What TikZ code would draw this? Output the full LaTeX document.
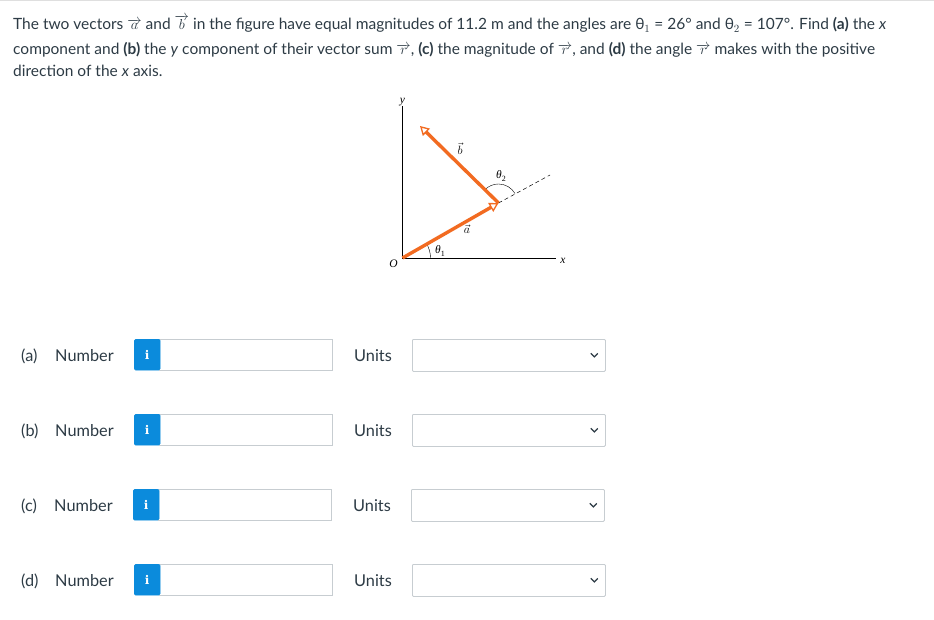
\documentclass[tikz,border=0pt]{standalone}
\usepackage{fontspec}
\setmainfont{Lato}
\newfontfamily\figfont{Liberation Serif}
\newfontfamily\infofont{DejaVu Serif}
\usetikzlibrary{arrows.meta,calc}
\definecolor{txt}{HTML}{2D3B45}
\definecolor{vec}{HTML}{F26B21}
\definecolor{infob}{HTML}{0B8BDC}
\definecolor{bord}{HTML}{C7CDD1}
\tikzset{
  line/.style={anchor=base west, inner sep=0pt, text=txt, font=\fontsize{15.5}{17}\selectfont},
  fline/.style={anchor=base west, inner sep=0pt, text=txt, font=\fontsize{16.3}{18}\selectfont},
  lab/.style={inner sep=0pt, font=\figfont\itshape\fontsize{11.5}{13}\selectfont},
  vecline/.style={draw=vec, line width=3.4pt, -{Triangle[open,length=9pt,width=10pt,line width=1.3pt]}},
  info/.style={fill=infob, draw=infob, minimum width=26pt, minimum height=31pt, inner sep=0pt, anchor=north west, rounded corners=1.5pt},
  inbox/.style={draw=bord, line width=0.8pt, minimum width=173pt, minimum height=31pt, inner sep=0pt, anchor=north west},
  selbox/.style={draw=bord, line width=0.8pt, minimum width=193pt, minimum height=32pt, inner sep=0pt, anchor=north west, rounded corners=1pt},
}
\newcommand{\subone}[1]{\raisebox{-2.5pt}{\upshape\fontsize{8}{9}\selectfont #1}}
\begin{document}
\begin{tikzpicture}[x=1pt,y=-1pt]
\useasboundingbox (0,0) rectangle (934,620);
\fill[white] (0,0) rectangle (934,620);
\draw[draw=gray!25, line width=1pt] (0,0.5) -- (934,0.5);
% question text
\node[line] (l1) at (13,30) {The two vectors $\overrightarrow{a}$ and $\overrightarrow{b}$ in the figure have equal magnitudes of 11.2 m and the angles are θ$_1$ = 26° and θ$_2$ = 107°. Find \textbf{(a)} the \textit{x}};
\node[line] (l2) at (13,55) {component and \textbf{(b)} the \textit{y} component of their vector sum $\overrightarrow{r}$, \textbf{(c)} the magnitude of $\overrightarrow{r}$, and \textbf{(d)} the angle $\overrightarrow{r}$ makes with the positive};
\node[line] (l3) at (13,77) {direction of the \textit{x} axis.};
% figure
\coordinate (O) at (402.5,258);
\coordinate (A) at (498.5,203);
\coordinate (B) at (420,126);
\coordinate (D) at (550,175);
\coordinate (Xe) at (556,258);
\coordinate (Ye) at (402.5,106);
\draw[black, line width=0.8pt] (Ye) -- (O) -- (Xe);
\draw[black, line width=0.5pt, dash pattern=on 4pt off 3pt] (A) -- (D);
\draw[black, line width=0.4pt] ($(O)+(28,0)$) arc[start angle=0, end angle=-29.8, radius=28];
\draw[black, line width=0.4pt] ($(A)+(-30.2:19)$) arc[start angle=-30.2, end angle=-134.6, radius=19];
\draw[vecline] (O) -- (A);
\draw[vecline] (A) -- (B);
\node[lab] (ly) at (402.5,102) {y};
\node[lab] (lx) at (563,261) {x};
\node[lab] (lO) at (393.5,264) {O};
\node[lab] (lt1) at (440,251) {θ\subone{1}};
\node[lab] (lt2) at (501,176) {θ\subone{2}};
\node[lab, font=\fontsize{11.5}{13}\selectfont] (lb) at (460,149) {$\vec{b}$};
\node[lab, font=\fontsize{11.5}{13}\selectfont] (la) at (467,229) {$\vec{a}$};
% form rows
\foreach \yy/\ll/\dx in {339/a/0,414/b/0,489/c/-1,564/d/0}{
  \node[fline] at (21,\yy+22) {(\ll)};
  \node[fline] at (55+\dx,\yy+22) {Number};
  \node[inbox] at (159+\dx,\yy) {};
  \node[info] (i\ll) at (134+\dx,\yy) {};
  \node[inner sep=0pt, text=white, font=\infofont\bfseries\fontsize{12}{13}\selectfont] at (i\ll.center) {i};
  \node[fline] at (354+\dx,\yy+22) {Units};
  \node[selbox] (s\ll) at (412+\dx,\yy) {};
  \draw[txt, line width=1.2pt] ($(s\ll.east)+(-15,-2)$) -- ($(s\ll.east)+(-11.5,1.5)$) -- ($(s\ll.east)+(-8,-2)$);
}
\end{tikzpicture}
\end{document}
